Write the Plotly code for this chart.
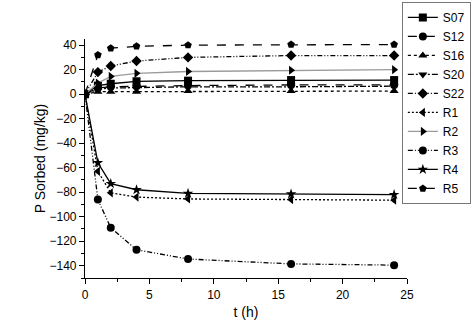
import plotly.graph_objects as go

t_h = [0, 1, 2, 4, 8, 16, 24]

S07 = [0, 7, 8.5, 10.5, 11, 11.5, 11.5]
S12 = [0, 5, 6, 6.5, 7, 7.5, 7.5]
S16 = [0, 2, 2, 2, 2.5, 2.5, 2.5]
S20 = [0, 4, 5, 5.5, 6, 6, 6.5]
S22 = [0, 18, 23, 27, 30, 31.5, 31.5]
R1 = [0, -63, -80.5, -84, -85.5, -86, -86.5]
R2 = [0, 9, 14.5, 17, 18.5, 19.5, 20]
R3 = [0, -86, -109, -127, -134.5, -138.5, -139.5]
R4 = [0, -56, -73, -78, -81, -81.5, -82]
R5 = [0, 32, 37.5, 39, 40, 40.5, 40.5]

series = [
    ("S07", S07, "square", "solid", "black"),
    ("S12", S12, "circle", "dash", "black"),
    ("S16", S16, "triangle-up", "dot", "black"),
    ("S20", S20, "triangle-down", "6px,2px,2px,2px", "black"),
    ("S22", S22, "diamond", "5px,2px,1px,2px,1px,2px", "black"),
    ("R1", R1, "triangle-left", "2px,2px", "black"),
    ("R2", R2, "triangle-right", "solid", "#9a9a9a"),
    ("R3", R3, "circle", "5px,2px,1px,2px,1px,2px", "black"),
    ("R4", R4, "star", "solid", "black"),
    ("R5", R5, "pentagon", "dash", "black"),
]

fig = go.Figure()
for name, vals, sym, dash, col in series:
    fig.add_trace(go.Scatter(
        x=t_h, y=vals, name=name, mode="lines+markers",
        line=dict(color=col, width=1.3, dash=dash),
        marker=dict(symbol=sym, size=8, color="black"),
    ))

family = "Liberation Sans, Arial, sans-serif"
tick_font = dict(family=family, size=12, color="black")
title_font = dict(family=family, size=14, color="black")

fig.update_layout(
    width=474, height=334,
    margin=dict(l=85, r=67, t=39, b=56, autoexpand=False),
    paper_bgcolor="white", plot_bgcolor="white",
    font=tick_font,
    showlegend=True,
    legend=dict(
        x=0.984, y=1.155, xanchor="left", yanchor="top",
        bordercolor="#777", borderwidth=1, bgcolor="white",
        font=dict(family=family, size=12, color="black"),
        itemwidth=30, tracegroupgap=0, maxheight=400,
    ),
    xaxis=dict(
        range=[0, 25], tickvals=[0, 5, 10, 15, 20, 25],
        ticks="outside", ticklen=5, tickcolor="black", tickfont=tick_font,
        minor=dict(dtick=2.5, tick0=0, ticks="outside", ticklen=3, tickcolor="black"),
        showline=True, linecolor="black", linewidth=1.2,
        showgrid=False, zeroline=False,
        title=dict(text="t (h)", font=title_font, standoff=6),
    ),
    yaxis=dict(
        range=[-150, 45], tickvals=list(range(-140, 41, 20)),
        ticks="outside", ticklen=5, tickcolor="black", tickfont=tick_font,
        minor=dict(dtick=10, tick0=0, ticks="outside", ticklen=3, tickcolor="black"),
        showline=True, linecolor="black", linewidth=1.2,
        showgrid=False, zeroline=False,
        title=dict(text="P Sorbed (mg/kg)", font=title_font, standoff=0),
    ),
)

fig.write_html("out.html")
